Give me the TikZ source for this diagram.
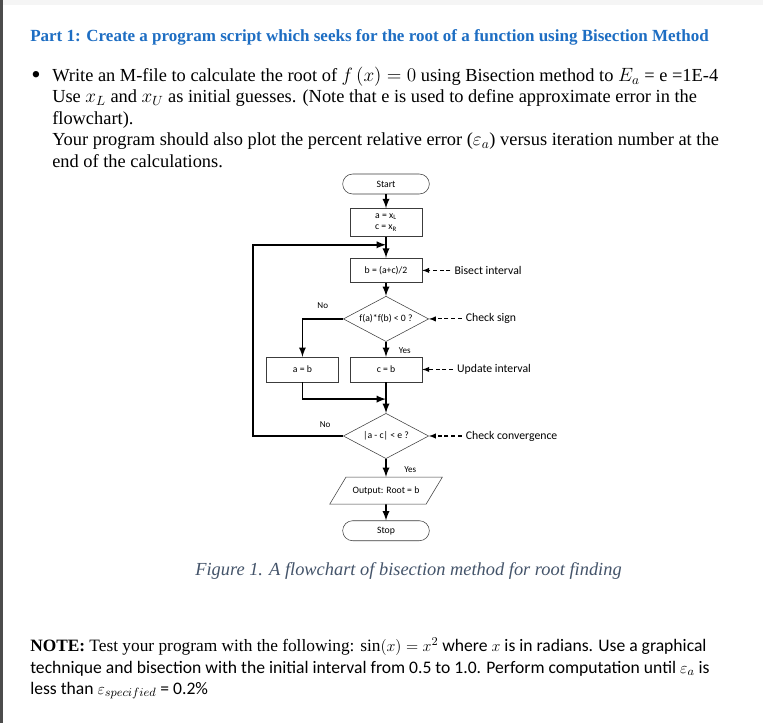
\documentclass[tikz,border=0pt]{standalone}
\usepackage{amsmath,amssymb}
\usepackage{fontspec}
\setmainfont{Liberation Serif}
\newfontfamily\calibri{Carlito}
\usetikzlibrary{shapes.geometric, arrows, positioning}
\definecolor{titleblue}{RGB}{30,110,195}
\definecolor{capgray}{RGB}{68,84,106}
\definecolor{boxgray}{RGB}{60,60,60}

\begin{document}
\begin{tikzpicture}[
    x=0.75pt, y=-0.75pt,
    txt/.style={anchor=base west, inner sep=0pt, font=\fontsize{13.8}{16}\selectfont},
    sanstxt/.style={anchor=base west, inner sep=0pt, font=\calibri\fontsize{13.2}{15}\selectfont},
    term/.style={draw=boxgray, rectangle, rounded corners=7.5pt, minimum width=65pt, minimum height=15pt, inner sep=0pt, font=\calibri\fontsize{7.3}{8.5}\selectfont},
    proc/.style={draw=boxgray, rectangle, minimum width=54pt, minimum height=18.5pt, align=center, inner sep=0pt, font=\calibri\fontsize{7.3}{8.5}\selectfont},
    decision/.style={draw=boxgray, diamond, aspect=1.9, minimum width=64pt, minimum height=34pt, inner sep=0pt, font=\calibri\fontsize{7.3}{8.5}\selectfont},
    io/.style={draw=boxgray, trapezium, trapezium left angle=59, trapezium right angle=121, inner xsep=5pt, inner ysep=7pt, font=\calibri\fontsize{7.3}{8.5}\selectfont},
    note/.style={inner sep=3pt, font=\calibri\fontsize{8.8}{10}\selectfont},
    lbl/.style={inner sep=0pt, font=\calibri\fontsize{6.8}{8}\selectfont},
    arrow/.style={line width=1.4pt, ->, >=latex},
    notearrow/.style={line width=0.8pt, dash pattern=on 3pt off 2pt, ->, >=latex}
]
    % Page
    \useasboundingbox (0,0) rectangle (763,723);
    \fill[white] (0,0) rectangle (763,723);
    \fill[black!70] (0,0) rectangle (3,723);
    \fill[black!4] (3,0) rectangle (763,5);

    % Task text
    \node (title) [txt, font=\bfseries\fontsize{12.75}{15}\selectfont, text=titleblue] at (30,42) {Part 1: Create a program script which seeks for the root of a function using Bisection Method};
    \node (bullet) [txt, font=\fontsize{20}{20}\selectfont] at (31,84) {\textbullet};
    \node (line1) [txt] at (52,82) {Write an M-file to calculate the root of $f\,(x) = 0$ using Bisection method to $E_a$ = e =1E-4};
    \node (line2) [txt] at (52,103) {Use $x_L$ and $x_U$ as initial guesses. (Note that e is used to define approximate error in the};
    \node (line3) [txt] at (52,125) {flowchart).};
    \node (line4) [txt] at (52,146) {Your program should also plot the percent relative error ($\varepsilon_a$) versus iteration number at the};
    \node (line5) [txt] at (52,168) {end of the calculations.};

    % Flowchart
    \node (start) [term] at (386,184) {Start};
    \node (init) [proc, below=10.5pt of start, minimum height=21pt] {a = x\textsubscript{L}\\c = x\textsubscript{R}};
    \node (bisect) [proc, below=15.75pt of init] {b = (a+c)/2};
    \node (sign) [decision, below=9.75pt of bisect] {f(a)*f(b) < 0 ?};
    \node (updc) [proc, below=11.25pt of sign] {c = b};
    \node (upda) [proc, left=8.25pt of updc] {a = b};
    \node (conv) [decision, below=23.25pt of updc] {|a - c| < e ?};
    \node (output) [io, below=13.5pt of conv] {Output: Root = b};
    \node (stop) [term, below=12pt of output] {Stop};
    \coordinate[below=6pt of init.south] (join);
    \coordinate[below=12.75pt of updc.south] (merge);

    % Notes
    \node (lbis) [note, right=21pt of bisect] {Bisect interval};
    \node (lsign) [note, right=24.5pt of sign] {Check sign};
    \node (lupd) [note, right=23pt of updc] {Update interval};
    \node (lconv) [note, right=24.5pt of conv] {Check convergence};
    \draw [notearrow] (lbis) -- (bisect);
    \draw [notearrow] (lsign) -- (sign);
    \draw [notearrow] (lupd) -- (updc);
    \draw [notearrow] (lconv) -- (conv);

    % Connections
    \draw [arrow] (start) -- (init);
    \draw [arrow] (init) -- (bisect);
    \draw [arrow] (bisect) -- (sign);
    \draw [arrow] (sign) -- node[lbl, right=9pt, yshift=-1pt] {Yes} (updc);
    \draw [arrow] (sign.west) -| node[lbl, pos=0.25, above=7pt] {No} (upda.north);
    \draw [arrow] (upda.south) |- (merge);
    \draw [arrow] (updc) -- (conv);
    \draw [arrow] (conv.west) -- node[lbl, pos=0.2, above=6pt] {No} ++(-67.5pt,0) |- (join);
    \draw [arrow] (conv) -- node[lbl, right=13pt, yshift=-1pt] {Yes} (output);
    \draw [arrow] (output) -- (stop);

    % Caption and note
    \node (caption) [txt, font=\itshape\fontsize{13.8}{15}\selectfont, text=capgray] at (195,575) {Figure 1. A flowchart of bisection method for root finding};
    \node (note1) [sanstxt] at (30,651) {{\rmfamily\fontsize{13}{15}\selectfont\textbf{NOTE:} Test your program with the following: $\sin(x) = x^2$} where $x$ is in radians. Use a graphical};
    \node (note2) [sanstxt] at (30,673) {technique and bisection with the initial interval from 0.5 to 1.0. Perform computation until $\varepsilon_a$ is};
    \node (note3) [sanstxt] at (30,694) {less than $\varepsilon_{specified}$ = 0.2\%};
\end{tikzpicture}
\end{document}
